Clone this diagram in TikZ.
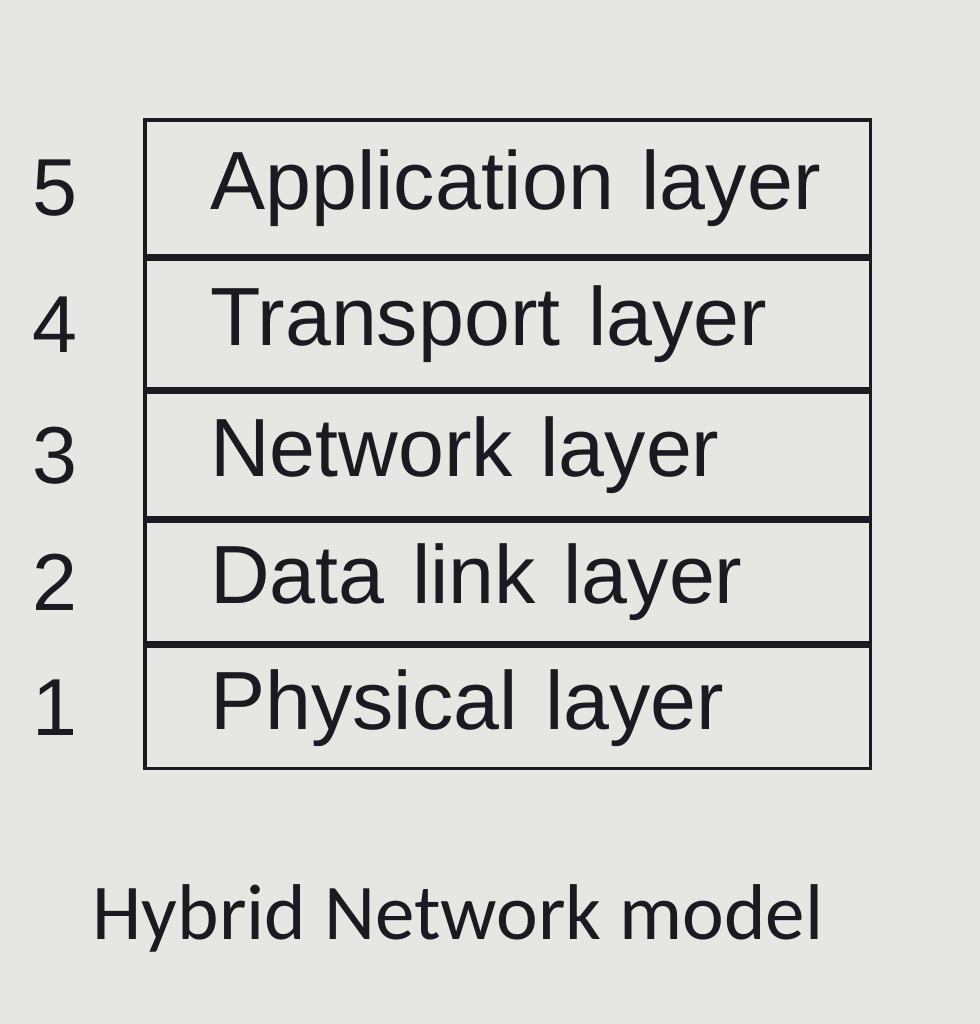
\documentclass[tikz,border=0pt]{standalone}
\usepackage{fontspec}
\setmainfont{Liberation Sans}
\newfontfamily\captionfont{Carlito}
\usetikzlibrary{positioning}
\definecolor{screen}{HTML}{E6E6E2}
\definecolor{ink}{HTML}{1A1A20}

\tikzset{
  layerbox/.style={draw=ink, line width=2pt, minimum width=14.52cm, text width=13.5cm,
    inner xsep=0.51cm, inner ysep=0pt, align=left, font=\fontsize{47}{50}\selectfont,
    text=ink, anchor=north west, execute at begin node=\hspace*{0.8cm}},
  layernum/.style={inner sep=0pt, font=\fontsize{46}{48}\selectfont, text=ink, anchor=east}
}

\begin{document}
\begin{tikzpicture}[x=0.02cm, y=-0.02cm]
            \fill[screen] (0,0) rectangle (980,1024);
            \useasboundingbox (0,0) rectangle (980,1024);

            \node[layerbox, minimum height=2.72cm] (app) at (143,118) {Application layer};
            \node[layerbox, minimum height=2.6cm, below=0pt of app.south west, anchor=north west] (trans) {Transport layer};
            \node[layerbox, minimum height=2.5cm, below=0pt of trans.south west, anchor=north west] (net) {Network layer};
            \node[layerbox, minimum height=2.44cm, below=0pt of net.south west, anchor=north west] (link) {Data link layer};
            \node[layerbox, minimum height=2.44cm, below=0pt of link.south west, anchor=north west] (phys) {Physical layer};

            \node[layernum, left=1.3cm of app.west] (n5) {5};
            \node[layernum, left=1.3cm of trans.west] (n4) {4};
            \node[layernum, left=1.3cm of net.west] (n3) {3};
            \node[layernum, left=1.3cm of link.west] (n2) {2};
            \node[layernum, left=1.3cm of phys.west] (n1) {1};

            \node[font=\captionfont\fontsize{45}{48}\selectfont, text=ink] (title) at (458,918) {Hybrid Network model};
        \end{tikzpicture}
\end{document}
